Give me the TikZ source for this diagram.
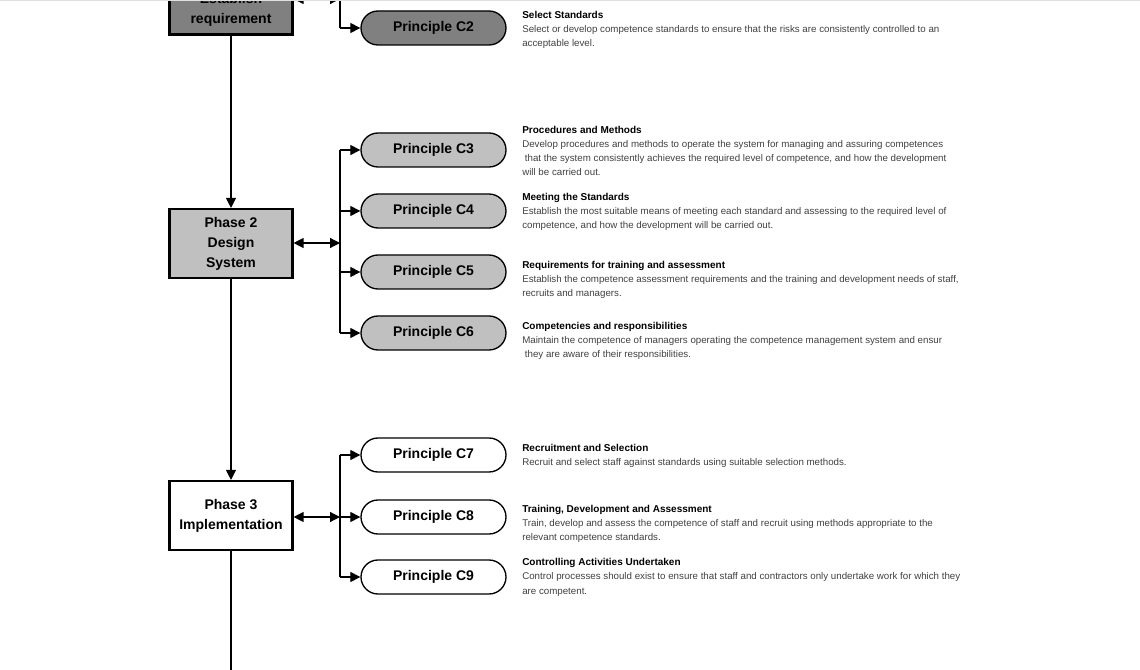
\documentclass[tikz,border=0pt]{standalone}
\usepackage{fontspec}
\setmainfont{Liberation Sans}
\usetikzlibrary{arrows.meta,shapes.misc}
\definecolor{darkfill}{HTML}{808080}
\definecolor{lightfill}{HTML}{C0C0C0}
\definecolor{desctext}{HTML}{404040}
\begin{document}
\begin{tikzpicture}[x=0.75pt,y=-0.75pt,
  phase/.style={draw,line width=1.6pt,minimum width=92.25pt,minimum height=51.75pt,inner sep=0pt,align=center,font=\fontsize{10.5}{15}\selectfont\bfseries},
  prin/.style={draw,rounded rectangle,line width=1pt,minimum width=108.75pt,minimum height=25.5pt,inner sep=0pt,font=\fontsize{10.5}{12}\selectfont\bfseries},
  desc/.style={anchor=base west,inner sep=0pt,align=left,font=\fontsize{7.3}{10.5}\selectfont,text=desctext},
  conn/.style={line width=0.9pt},
  tip/.style={-{Triangle[length=7.5pt,width=7.5pt]}},
  dtip/.style={{Triangle[length=7.5pt,width=7.5pt]}-{Triangle[length=7.5pt,width=7.5pt]}},
]
\useasboundingbox (0,0) rectangle (1140,670);
\clip (0,0) rectangle (1140,670);
\newcommand{\ttl}[1]{{\fontsize{7.5}{10.5}\selectfont\bfseries\color{black}#1}}

% phases
\node[phase,fill=darkfill] (p1) at (231,0) {Phase 1\\Establish\\requirement};
\node[phase,fill=lightfill] (p2) at (231,243.5) {Phase 2\\Design\\System};
\node[phase,fill=white] (p3) at (231,515.5) {Phase 3\\Implementation};

% principles
\node[prin,fill=darkfill] (c2) at (433.5,28) {Principle C2};
\node[prin,fill=lightfill] (c3) at (433.5,150) {Principle C3};
\node[prin,fill=lightfill] (c4) at (433.5,211) {Principle C4};
\node[prin,fill=lightfill] (c5) at (433.5,272) {Principle C5};
\node[prin,fill=lightfill] (c6) at (433.5,333) {Principle C6};
\node[prin,fill=white] (c7) at (433.5,455) {Principle C7};
\node[prin,fill=white] (c8) at (433.5,517) {Principle C8};
\node[prin,fill=white] (c9) at (433.5,577) {Principle C9};

% bus coordinates
\coordinate (b1) at (340,-1);
\coordinate (b1top) at (340,-40);
\coordinate (b2) at (340,243);
\coordinate (b3) at (340,517);
\coordinate (pend) at (231,690);

% vertical flow
\draw[conn,tip] (p1.south) -- (p2.north);
\draw[conn,tip] (p2.south) -- (p3.north);
\draw[conn] (p3.south) -- (pend);

% phase 1 connections
\draw[conn,dtip] (p1.east |- b1) -- (b1);
\draw[conn] (b1top) -- (c2.west -| b1);
\draw[conn,tip] (c2.west -| b1) -- (c2.west);

% phase 2 connections
\draw[conn,dtip] (p2.east |- b2) -- (b2);
\draw[conn] (c3.west -| b2) -- (c6.west -| b2);
\foreach \c in {c3,c4,c5,c6} \draw[conn,tip] (\c.west -| b2) -- (\c.west);

% phase 3 connections
\draw[conn,dtip] (p3.east |- b3) -- (b3);
\draw[conn] (c7.west -| b3) -- (c9.west -| b3);
\foreach \c in {c7,c8,c9} \draw[conn,tip] (\c.west -| b3) -- (\c.west);

% descriptions (anchored at the baseline of their last line)
\node[desc] (d2) at (522,47) {\ttl{Select Standards}\\Select or develop competence standards to ensure that the risks are consistently controlled to an\\acceptable level.};
\node[desc] (d3) at (522,176) {\ttl{Procedures and Methods}\\Develop procedures and methods to operate the system for managing and assuring competences\\\hspace*{2pt}that the system consistently achieves the required level of competence, and how the development\\will be carried out.};
\node[desc] (d4) at (522,229) {\ttl{Meeting the Standards}\\Establish the most suitable means of meeting each standard and assessing to the required level of\\competence, and how the development will be carried out.};
\node[desc] (d5) at (522,297) {\ttl{Requirements for training and assessment}\\Establish the competence assessment requirements and the training and development needs of staff,\\recruits and managers.};
\node[desc] (d6) at (522,358) {\ttl{Competencies and responsibilities}\\Maintain the competence of managers operating the competence management system and ensur\\\hspace*{2pt}they are aware of their responsibilities.};
\node[desc] (d7) at (522,466) {\ttl{Recruitment and Selection}\\Recruit and select staff against standards using suitable selection methods.};
\node[desc] (d8) at (522,541) {\ttl{Training, Development and Assessment}\\Train, develop and assess the competence of staff and recruit using methods appropriate to the\\relevant competence standards.};
\node[desc] (d9) at (522,594) {\ttl{Controlling Activities Undertaken}\\Control processes should exist to ensure that staff and contractors only undertake work for which they\\are competent.};

% top page edge
\draw[black!12,line width=1.5pt] (0,0) -- (1140,0);
\end{tikzpicture}
\end{document}
